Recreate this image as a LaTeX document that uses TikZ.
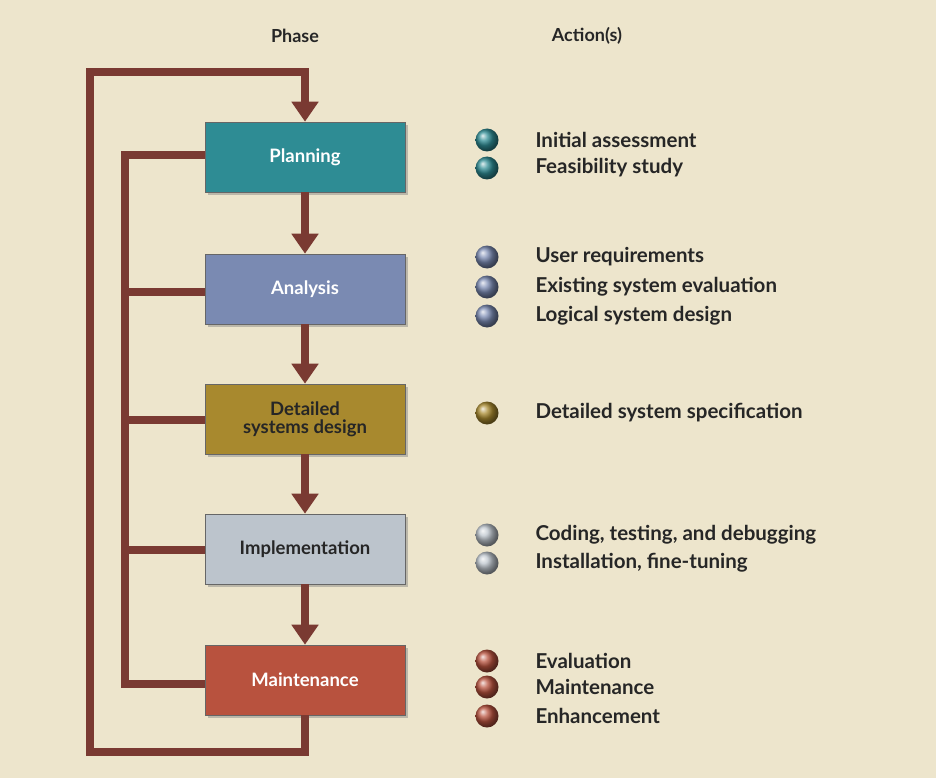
\documentclass[tikz,border=0pt]{standalone}
\usepackage{fontspec}
\setmainfont{Lato}
\usetikzlibrary{arrows.meta,shadows}
\definecolor{bg}{HTML}{EDE5CC}
\definecolor{ln}{HTML}{7A3A32}
\definecolor{cP}{HTML}{2E8C94}
\definecolor{cA}{HTML}{7A8AB2}
\definecolor{cD}{HTML}{A8892E}
\definecolor{cI}{HTML}{BCC4CC}
\definecolor{cM}{HTML}{B8523E}
\tikzset{
 x=1pt,y=-1pt,
 box/.style={draw=black!60,line width=0.6pt,minimum width=200pt,minimum height=70pt,font=\bfseries\fontsize{18.5}{20}\selectfont,align=center,drop shadow={shadow xshift=3pt,shadow yshift=-3pt,opacity=0.45}},
 con/.style={draw=ln,line width=8pt},
 arr/.style={con,-{Triangle[width=26pt,length=20pt]}},
 bul/.style={circle,minimum size=23pt,inner sep=0pt,shading=ball,ball color=#1},
 act/.style={anchor=west,font=\bfseries\fontsize{20.5}{22}\selectfont,text=black!85},
 hd/.style={font=\bfseries\fontsize{18}{20}\selectfont,text=black!85}
}
\begin{document}
\begin{tikzpicture}
\fill[bg] (0,0) rectangle (936,778);
\useasboundingbox (0,0) rectangle (936,778);
\node[hd] (h1) at (295,36) {Phase};
\node[hd] (h2) at (587,36) {Action(s)};
\node[box,fill=cP,text=white] (P) at (305,157) {Planning};
\node[box,fill=cA,text=white] (A) at (305,289) {Analysis};
\node[box,fill=cD,text=black!85] (D) at (305,419) {Detailed\\[-2pt]systems design};
\node[box,fill=cI,text=black!85] (I) at (305,549) {Implementation};
\node[box,fill=cM,text=white] (M) at (305,680) {Maintenance};
\coordinate (t1) at (305,752); \coordinate (t2) at (90,752);
\coordinate (t3) at (90,72); \coordinate (t4) at (305,72);
\draw[arr,line join=miter] (M.south) -- (t1) -- (t2) -- (t3) -- (t4) -- (P.north);
\draw[arr] (P) -- (A); \draw[arr] (A) -- (D); \draw[arr] (D) -- (I); \draw[arr] (I) -- (M);
\coordinate (l1) at (125,155); \coordinate (l5) at (125,684);
\draw[con,line join=miter] (P.west|-l1) -- (l1) -- (l5) -- (M.west|-l5);
\coordinate (l2) at (125,292); \coordinate (l3) at (125,420); \coordinate (l4) at (125,550);
\draw[con] (l2) -- (A.west|-l2); \draw[con] (l3) -- (D.west|-l3); \draw[con] (l4) -- (I.west|-l4);
\foreach \y/\c/\t [count=\i] in {140/cP/Initial assessment,168/cP/Feasibility study,257/cA/User requirements,287/cA/Existing system evaluation,316/cA/Logical system design,413/cD/Detailed system specification,535/cI/{Coding, testing, and debugging},563/cI/{Installation, fine-tuning},661/cM/Evaluation,687/cM/Maintenance,716/cM/Enhancement}{
 \node[bul=\c] (b\i) at (487,\y) {};
 \node[act] (a\i) at (532,\y) {\t};
}
\end{tikzpicture}
\end{document}
